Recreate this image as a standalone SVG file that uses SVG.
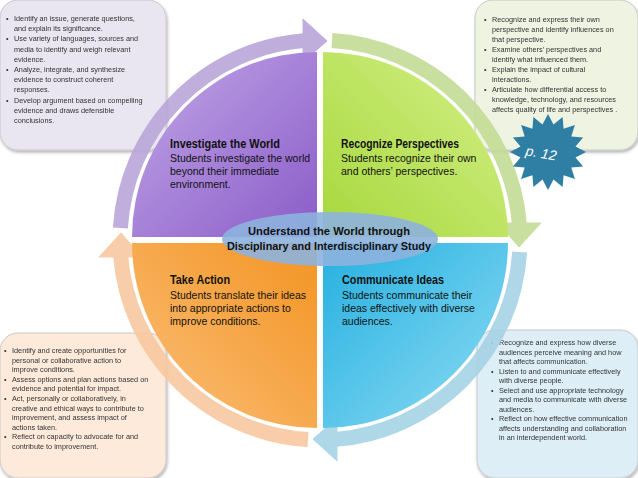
<svg xmlns="http://www.w3.org/2000/svg" width="638" height="478" viewBox="0 0 638 478">
<style>
.box{stroke:#c8c8c8;stroke-width:1}
.bt{font-family:"Liberation Sans",Arial,sans-serif;font-size:7.3px;fill:#333}
.qt{font-family:"Liberation Sans",Arial,sans-serif;font-size:12px;font-weight:bold;fill:#111}
.qb{font-family:"Liberation Sans",Arial,sans-serif;font-size:10.5px;fill:#111}
.ct{font-family:"Liberation Sans",Arial,sans-serif;font-size:11.5px;font-weight:bold;fill:#111}
</style>
<defs>
<linearGradient id="gP" x1="0" y1="0" x2="1" y2="1"><stop offset="0" stop-color="#c3a8e8"/><stop offset="1" stop-color="#8a5cc8"/></linearGradient>
<linearGradient id="gG" x1="1" y1="0" x2="0" y2="1"><stop offset="0" stop-color="#d6f08a"/><stop offset="1" stop-color="#a6d83c"/></linearGradient>
<linearGradient id="gO" x1="0" y1="1" x2="1" y2="0"><stop offset="0" stop-color="#fbbf7a"/><stop offset="1" stop-color="#f39422"/></linearGradient>
<linearGradient id="gB" x1="1" y1="1" x2="0" y2="0"><stop offset="0" stop-color="#8fdcf4"/><stop offset="1" stop-color="#25b0e0"/></linearGradient>
<filter id="sh" x="-10%" y="-10%" width="120%" height="120%"><feDropShadow dx="1" dy="2" stdDeviation="1.5" flood-opacity="0.3"/></filter>
<g id="arr">
<path d="M120.4,228 A200,200 0 0 1 304,40.64" fill="none" stroke-width="15" stroke-linecap="butt"/>
<polygon points="303,19 303,62 327,41"/>
</g>
</defs>
<rect width="638" height="478" fill="#fff"/>

<g id="box-investigate" filter="url(#sh)">
<rect class="box" x="0" y="0" width="166" height="150" rx="18" fill="#e9e5f1"/>
<text class="bt"><tspan x="6" y="21">•</tspan><tspan x="14" y="21">Identify an issue, generate questions,</tspan><tspan x="14" y="31.2">and explain its significance.</tspan><tspan x="6" y="41.4">•</tspan><tspan x="14" y="41.4">Use variety of languages, sources and</tspan><tspan x="14" y="51.6">media to identify and weigh relevant</tspan><tspan x="14" y="61.8">evidence.</tspan><tspan x="6" y="72">•</tspan><tspan x="14" y="72">Analyze, integrate, and synthesize</tspan><tspan x="14" y="82.2">evidence to construct coherent</tspan><tspan x="14" y="92.4">responses.</tspan><tspan x="6" y="102.6">•</tspan><tspan x="14" y="102.6">Develop argument based on compelling</tspan><tspan x="14" y="112.8">evidence and draws defensible</tspan><tspan x="14" y="123">conclusions.</tspan></text>
</g>
<g id="box-recognize" filter="url(#sh)">
<rect class="box" x="475" y="0" width="163" height="150" rx="18" fill="#eef3e2"/>
<text class="bt"><tspan x="484" y="22">•</tspan><tspan x="492" y="22">Recognize and express their own</tspan><tspan x="492" y="32">perspective and identify influences on</tspan><tspan x="492" y="42">that perspective.</tspan><tspan x="484" y="52">•</tspan><tspan x="492" y="52">Examine others’ perspectives and</tspan><tspan x="492" y="62">identify what influenced them.</tspan><tspan x="484" y="72">•</tspan><tspan x="492" y="72">Explain the impact of cultural</tspan><tspan x="492" y="82">interactions.</tspan><tspan x="484" y="92">•</tspan><tspan x="492" y="92">Articulate how differential access to</tspan><tspan x="492" y="102">knowledge, technology, and resources</tspan><tspan x="492" y="112">affects quality of life and perspectives .</tspan></text>
</g>
<g id="box-action" filter="url(#sh)">
<rect class="box" x="0" y="333" width="166" height="145" rx="18" fill="#fdeadb"/>
<text class="bt"><tspan x="4" y="353">•</tspan><tspan x="12" y="353">Identify and create opportunities for</tspan><tspan x="12" y="362.6">personal or collaborative action to</tspan><tspan x="12" y="372.2">improve conditions.</tspan><tspan x="4" y="381.8">•</tspan><tspan x="12" y="381.8">Assess options and plan actions based on</tspan><tspan x="12" y="391.4">evidence and potential for impact.</tspan><tspan x="4" y="401">•</tspan><tspan x="12" y="401">Act, personally or collaboratively, in</tspan><tspan x="12" y="410.6">creative and ethical ways to contribute to</tspan><tspan x="12" y="420.2">improvement, and assess impact of</tspan><tspan x="12" y="429.8">actions taken.</tspan><tspan x="4" y="439.4">•</tspan><tspan x="12" y="439.4">Reflect on capacity to advocate for and</tspan><tspan x="12" y="449">contribute to improvement.</tspan></text>
</g>
<g id="box-communicate" filter="url(#sh)">
<rect class="box" x="477" y="330" width="161" height="148" rx="18" fill="#ddeef6"/>
<text class="bt"><tspan x="491" y="345">•</tspan><tspan x="499" y="345">Recognize and express how diverse</tspan><tspan x="499" y="354.5">audiences perceive  meaning and how</tspan><tspan x="499" y="364">that affects communication.</tspan><tspan x="491" y="373.5">•</tspan><tspan x="499" y="373.5">Listen to and communicate effectively</tspan><tspan x="499" y="383">with diverse people.</tspan><tspan x="491" y="392.5">•</tspan><tspan x="499" y="392.5">Select and use appropriate technology</tspan><tspan x="499" y="402">and media to communicate with diverse</tspan><tspan x="499" y="411.5">audiences.</tspan><tspan x="491" y="421">•</tspan><tspan x="499" y="421">Reflect on how effective communication</tspan><tspan x="499" y="430.5">affects understanding and collaboration</tspan><tspan x="499" y="440">in an interdependent world.</tspan></text>
</g>

<g id="connectors">
<use href="#arr" fill="#b9a6d8" stroke="#b9a6d8" opacity="0.9"/>
<use href="#arr" fill="#c4dc96" stroke="#c4dc96" opacity="0.9" transform="rotate(90 320 240)"/>
<use href="#arr" fill="#a6d3e6" stroke="#a6d3e6" opacity="0.9" transform="rotate(180 320 240)"/>
<use href="#arr" fill="#f8c8a0" stroke="#f8c8a0" opacity="0.9" transform="rotate(270 320 240)"/>
</g>

<g id="q-investigate">
<path d="M317,237 L132,237 A185,185 0 0 1 317,52 Z" fill="url(#gP)"/>
<text class="qt" x="170" y="148" textLength="110" lengthAdjust="spacingAndGlyphs">Investigate the World</text>
<text class="qb"><tspan x="170" y="162">Students investigate the world</tspan><tspan x="170" y="175">beyond their immediate</tspan><tspan x="170" y="188">environment.</tspan></text>
</g>
<g id="q-recognize">
<path d="M323,237 L323,52 A185,185 0 0 1 508,237 Z" fill="url(#gG)"/>
<text class="qt" x="341" y="148" textLength="118" lengthAdjust="spacingAndGlyphs">Recognize Perspectives</text>
<text class="qb"><tspan x="341" y="162">Students recognize their own</tspan><tspan x="341" y="175">and others’ perspectives.</tspan></text>
</g>
<g id="q-action">
<path d="M317,243 L317,428 A185,185 0 0 1 132,243 Z" fill="url(#gO)"/>
<text class="qt" x="170" y="284" textLength="60" lengthAdjust="spacingAndGlyphs">Take Action</text>
<text class="qb"><tspan x="170" y="299">Students translate their ideas</tspan><tspan x="170" y="312">into appropriate actions to</tspan><tspan x="170" y="325">improve conditions.</tspan></text>
</g>
<g id="q-communicate">
<path d="M323,243 L508,243 A185,185 0 0 1 323,428 Z" fill="url(#gB)"/>
<text class="qt" x="342" y="284" textLength="102" lengthAdjust="spacingAndGlyphs">Communicate Ideas</text>
<text class="qb"><tspan x="342" y="299">Students communicate their</tspan><tspan x="342" y="312">ideas effectively with  diverse</tspan><tspan x="342" y="325">audiences.</tspan></text>
</g>

<g id="center">
<ellipse cx="330" cy="239" rx="108" ry="27" fill="#8db2de" opacity="0.9"/>
<text class="ct" x="329" y="235" text-anchor="middle" textLength="162" lengthAdjust="spacingAndGlyphs">Understand the World through</text>
<text class="ct" x="329" y="250" text-anchor="middle" textLength="204" lengthAdjust="spacingAndGlyphs">Disciplinary and Interdisciplinary Study</text>
</g>

<g id="star">
<polygon fill="#2f7fa5" points="586,152 575.5,157.5 583.1,166.6 571.3,167.6 574.9,178.9 563.6,175.3 562.6,187.1 553.5,179.5 548,190 542.5,179.5 533.4,187.1 532.4,175.3 521.1,178.9 524.7,167.6 512.9,166.6 520.5,157.5 510,152 520.5,146.5 512.9,137.4 524.7,136.4 521.1,125.1 532.4,128.7 533.4,116.9 542.5,124.5 548,114 553.5,124.5 562.6,116.9 563.6,128.7 574.9,125.1 571.3,136.4 583.1,137.4 575.5,146.5"/>
<text x="541" y="158" text-anchor="middle" transform="rotate(10 541 154)" font-family="Liberation Sans, Arial, sans-serif" font-size="14" font-style="italic" fill="#fff">p. 12</text>
</g>
</svg>
